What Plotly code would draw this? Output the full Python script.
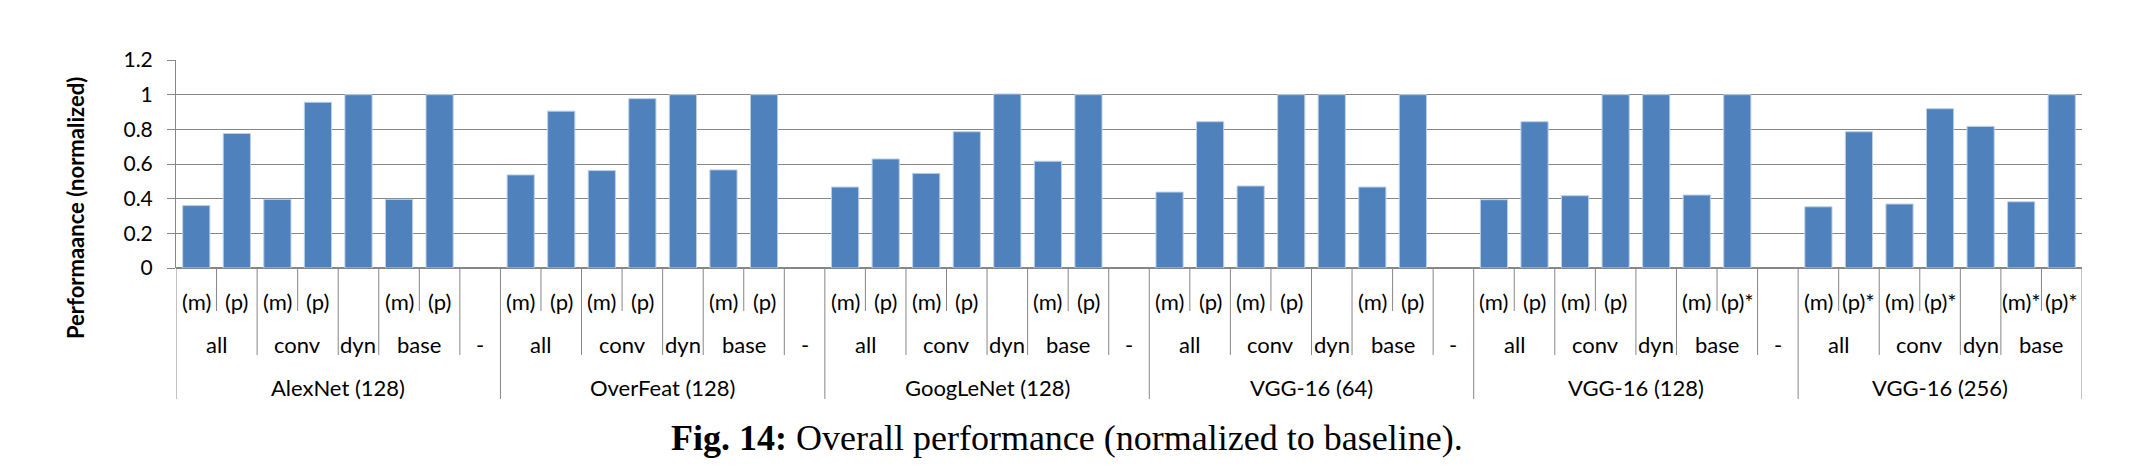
import plotly.graph_objects as go

# ---- data ----
networks = ["AlexNet (128)", "OverFeat (128)", "GoogLeNet (128)",
            "VGG-16 (64)", "VGG-16 (128)", "VGG-16 (256)"]

# slot order inside each network: all(m), all(p), conv(m), conv(p), dyn, base(m), base(p)
alexnet = [0.36, 0.776, 0.396, 0.956, 1.0, 0.396, 1.0]
overfeat = [0.537, 0.905, 0.562, 0.977, 1.0, 0.566, 1.0]
googlenet = [0.467, 0.629, 0.546, 0.786, 1.004, 0.616, 1.0]
vgg16_64 = [0.438, 0.844, 0.473, 1.0, 1.0, 0.467, 1.0]
vgg16_128 = [0.394, 0.844, 0.417, 1.0, 1.0, 0.421, 1.0]
vgg16_256 = [0.353, 0.786, 0.369, 0.919, 0.817, 0.382, 1.0]

sub_labels = ["(m)", "(p)", "(m)", "(p)", "", "(m)", "(p)"]
sub_labels_128 = ["(m)", "(p)", "(m)", "(p)", "", "(m)", "(p)*"]
sub_labels_256 = ["(m)", "(p)*", "(m)", "(p)*", "", "(m)*", "(p)*"]
mid_labels = ["all", "conv", "dyn", "base", "-"]
mid_spans = [(0, 1), (2, 3), (4, 4), (5, 6), (7, 7)]

series = [alexnet, overfeat, googlenet, vgg16_64, vgg16_128, vgg16_256]
subs = [sub_labels, sub_labels, sub_labels, sub_labels, sub_labels_128, sub_labels_256]

SLOTS = 8  # 7 bars + "-" spacer
W, H = 2130, 466
L, R, T, B = 168, 56, 52, 206
PH = H - T - B
GRAY = "#868686"
FONT = "Lato, Carlito, Calibri, sans-serif"


def py(pix):
    """pixel row -> paper y"""
    return (H - B - pix) / PH


def px(pix):
    return (pix - L) / (W - L - R)


xs, ys = [], []
for g, vals in enumerate(series):
    for k, v in enumerate(vals):
        xs.append(g * SLOTS + k)
        ys.append(v)
n_slots = len(series) * SLOTS - 1
x_end = n_slots - 0.5

fig = go.Figure(go.Bar(
    x=xs, y=ys, width=0.67,
    marker=dict(color="#4F81BD", line=dict(color="#BCCFE6", width=1)),
    hoverinfo="y",
))

# levels: bottom pixel of each label row and its centre
row_bottom = {1: 303, 2: 347, 3: 391}
row_center = {1: 293, 2: 336, 3: 379}

shapes, annos = [], []


def vline(xv, level):
    shapes.append(dict(type="line", xref="x", yref="paper", x0=xv, x1=xv,
                       y0=0, y1=py(row_bottom[level]),
                       line=dict(color=GRAY, width=1)))


for g, name in enumerate(networks):
    base = g * SLOTS
    last = g == len(networks) - 1
    n_in = 7 if last else 8
    vline(base - 0.5, 3)
    for k in range(1, n_in):
        b = base + k - 0.5
        vline(b, 1 if k in (1, 3, 6) else 2)
    for k, lab in enumerate(subs[g]):
        if lab:
            annos.append(dict(x=base + k, y=py(row_center[1]), text=lab))
    for lab, (a, b) in zip(mid_labels, mid_spans):
        if last and lab == "-":
            continue
        annos.append(dict(x=base + (a + b) / 2, y=py(row_center[2]), text=lab))
    annos.append(dict(x=base + (n_in - 1) / 2, y=py(row_center[3]), text=name))
vline(x_end, 3)

for a in annos:
    a.update(xref="x", yref="paper", showarrow=False, yanchor="middle",
             font=dict(family=FONT, size=22, color="black"))
fig.update_layout(shapes=shapes, annotations=annos)

fig.add_annotation(x=px(67), y=py(200), xref="paper", yref="paper",
                   text="<b>Performaance (normalized)</b>", textangle=-90,
                   showarrow=False, font=dict(family=FONT, size=22, color="black"),
                   xanchor="center", yanchor="middle")
fig.add_annotation(x=px(1059), y=py(430), xref="paper", yref="paper",
                   text="<b>Fig. 14:</b> Overall performance (normalized to baseline).",
                   showarrow=False,
                   font=dict(family="Liberation Serif, Times New Roman, serif",
                             size=36, color="black"),
                   xanchor="center", yanchor="middle")

fig.update_xaxes(range=[-0.5, x_end], showticklabels=False, showgrid=False,
                 zeroline=False, showline=False, fixedrange=True)
fig.update_yaxes(range=[0, 1.2], dtick=0.2, tickformat="~g",
                 showgrid=True, gridcolor=GRAY, gridwidth=1,
                 showline=True, linecolor=GRAY, linewidth=1,
                 ticks="outside", ticklen=8, tickcolor=GRAY,
                 ticklabelstandoff=10, zeroline=True, zerolinecolor=GRAY,
                 tickfont=dict(family=FONT, size=21, color="black"))

fig.update_layout(
    width=W, height=H,
    margin=dict(l=L, r=R, t=T, b=B),
    plot_bgcolor="white", paper_bgcolor="white",
    showlegend=False,
)

fig.write_html("out.html")
